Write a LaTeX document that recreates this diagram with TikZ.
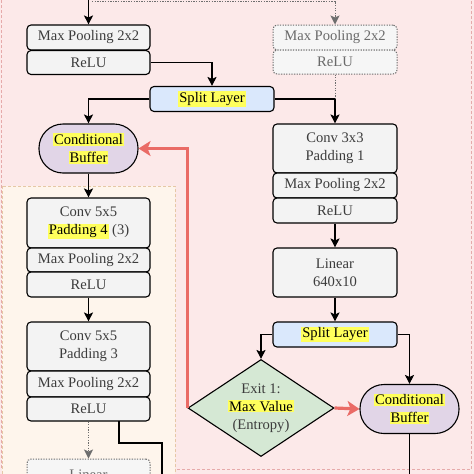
\documentclass[tikz,border=0pt]{standalone}
\usepackage{fontspec}
\setmainfont{Liberation Serif}
\usetikzlibrary{arrows.meta,shapes.geometric}
\definecolor{pinkbg}{HTML}{FCE9E9}
\definecolor{pinkbd}{HTML}{E6AAAA}
\definecolor{peachbg}{HTML}{FEF5EC}
\definecolor{peachbd}{HTML}{E6C8A6}
\definecolor{boxg}{HTML}{F3F3F3}
\definecolor{boxl}{HTML}{F6F6F6}
\definecolor{dgray}{HTML}{6E6E6E}
\definecolor{txt}{HTML}{3C3C3C}
\definecolor{txtl}{HTML}{6A6A6A}
\definecolor{splitb}{HTML}{DAE8FC}
\definecolor{bufp}{HTML}{E1D5E7}
\definecolor{diag}{HTML}{D5E8D4}
\definecolor{redc}{HTML}{EA6B66}
\definecolor{hly}{HTML}{FFFF5C}
\newcommand{\hlt}[1]{{\setlength{\fboxsep}{1pt}\colorbox{hly}{\color{black}#1}}}
\begin{document}
\begin{tikzpicture}[x=1pt,y=-1pt,
  box/.style={draw=black, line width=1.1pt, rounded corners=4pt, fill=boxg, text=txt,
    minimum width=123pt, inner sep=0pt, align=center, font=\fontsize{14.6}{18}\selectfont},
  dbox/.style={box, draw=dgray, dash pattern=on 1.3pt off 1.3pt, line width=1pt, fill=boxl, text=txtl},
  splitbox/.style={box, fill=splitb, minimum width=124pt, minimum height=25pt},
  buf/.style={box, fill=bufp, minimum width=99pt, minimum height=49pt, rounded corners=24pt},
  arr/.style={-{Stealth[length=9pt,width=9pt,inset=2pt]}, line width=1.1pt},
  darr/.style={-{Stealth[length=9pt,width=9pt,inset=2pt]}, line width=1pt, draw=dgray, dash pattern=on 1.3pt off 1.3pt},
  redarr/.style={-{Stealth[length=12pt,width=15pt,inset=3pt]}, line width=3.2pt, draw=redc},
  lbl/.style={align=center, text=txt, inner sep=0pt, font=\fontsize{14.6}{18}\selectfont}
]
\useasboundingbox (0,0) rectangle (474,474);
% regions
\fill[pinkbg] (0,-5) rectangle (474,474);
\draw[pinkbd, dash pattern=on 3pt off 2pt, line width=0.8pt, fill=pinkbg] (1.5,-5) rectangle (471.5,469.5);
\draw[peachbd, dash pattern=on 3pt off 2pt, line width=0.8pt, fill=peachbg] (2,186) rectangle (175,490);

% left column
\node[box, minimum height=25pt] (mp1) at (88.5,37.5) {Max Pooling 2x2};
\node[box, minimum height=24pt] (relu1) at (88.5,62.5) {ReLU};
\node[splitbox] (split1) at (212,99) {\hlt{Split Layer}};
\node[buf] (cb1) at (88.5,148.5) {\hlt{Conditional}\\\hlt{Buffer}};

\node[box, minimum height=50pt] (c5a) at (88.5,223) {Conv 5x5\\\hlt{Padding 4} (3)};
\node[box, minimum height=24pt] (mp5a) at (88.5,260) {Max Pooling 2x2};
\node[box, minimum height=25pt] (relu5a) at (88.5,284.5) {ReLU};

\node[box, minimum height=49pt] (c5b) at (88.5,346.5) {Conv 5x5\\Padding 3};
\node[box, minimum height=26pt] (mp5b) at (88.5,384) {Max Pooling 2x2};
\node[box, minimum height=24pt] (relu5b) at (88.5,409) {ReLU};

\node[dbox, minimum height=49pt] (linL) at (88.5,483.5) {Linear\\\phantom{640x10}};

% right column
\node[dbox, minimum width=124pt, minimum height=25pt] (dmp) at (335,37.5) {Max Pooling 2x2};
\node[dbox, minimum width=124pt, minimum height=24pt] (drelu) at (335,62) {ReLU};

\node[box, minimum width=124pt, minimum height=49pt] (c3) at (335,148.5) {Conv 3x3\\Padding 1};
\node[box, minimum width=124pt, minimum height=25pt] (mp3) at (335,185.5) {Max Pooling 2x2};
\node[box, minimum width=124pt, minimum height=25pt] (relu3) at (335,210.5) {ReLU};

\node[box, minimum width=124pt, minimum height=49pt] (lin) at (335,272.5) {Linear\\640x10};
\node[splitbox] (split2) at (335,334.5) {\hlt{Split Layer}};

\node[draw=black, line width=1.1pt, diamond, fill=diag, minimum width=146pt, minimum height=97pt, inner sep=0pt] (dia) at (261,408) {};
\node[lbl] (dlab) at (dia.center) {Exit 1:\\\hlt{Max Value}\\(Entropy)};

\node[buf] (cb2) at (409.5,409) {\hlt{Conditional}\\\hlt{Buffer}};

% coordinates
\coordinate (top1) at (88.5,-3);
\coordinate (top2) at (92,1);
\coordinate (j1) at (335,99);
\coordinate (r5) at (119,421);
\coordinate (b1) at (162,443);
\coordinate (b2) at (162,485);
\coordinate (b3) at (409.5,485);

% connectors
\draw[arr] (top1) -- (mp1.north);
\draw[darr] (top2) -| (dmp.north);
\draw[arr] (relu1.east) -| (split1.north);
\draw[arr] (split1.west) -| (cb1.north);
\draw[arr] (cb1.south) -- (c5a.north);
\draw[arr] (relu5a.south) -- (c5b.north);
\draw[darr] (relu5b.south) -- (linL.north);
\draw[line width=1.1pt] (r5) |- (b1) -- (b2);

\draw[dgray, line width=1pt, dash pattern=on 1.3pt off 1.3pt] (drelu.south) -- (j1);
\draw[line width=1.1pt] (split1.east) -- (j1);
\draw[arr] (j1) -- (c3.north);
\draw[arr] (relu3.south) -- (lin.north);
\draw[arr] (lin.south) -- (split2.north);
\draw[arr] (split2.west) -| (dia.north);
\draw[arr] (split2.east) -| (cb2.north);
\draw[line width=1.1pt] (cb2.south) -- (b3);

\draw[redarr] (dia.west) |- (cb1.east);
\draw[redarr] (dia.east) -- (cb2.west);
\end{tikzpicture}
\end{document}
